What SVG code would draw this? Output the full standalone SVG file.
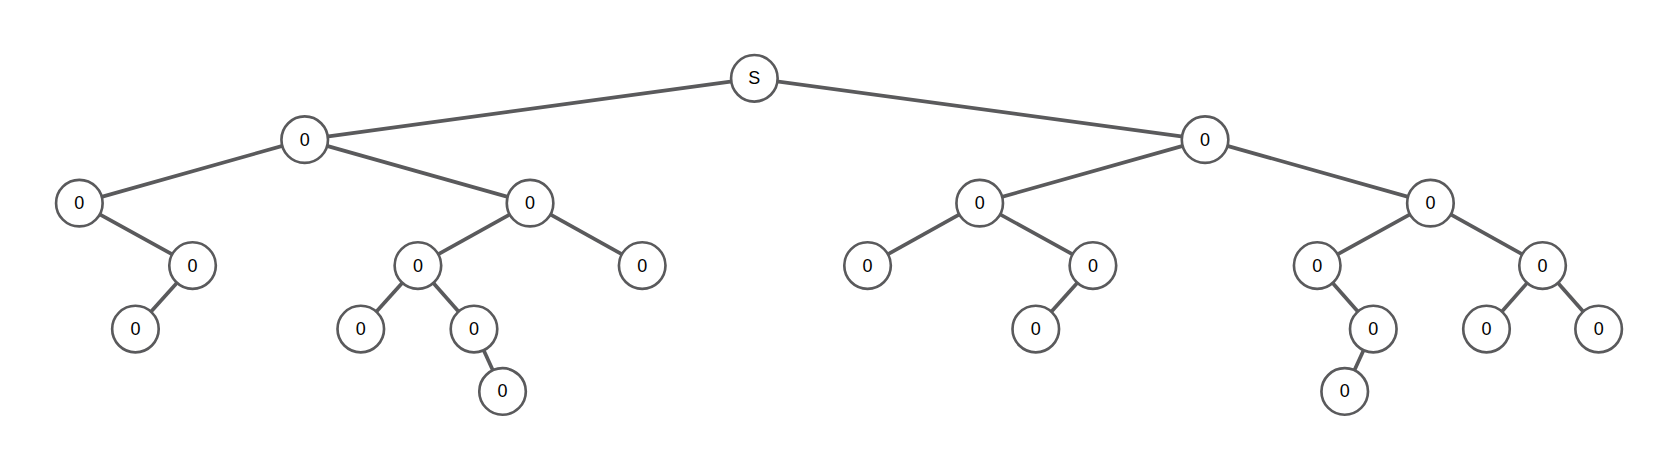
<svg xmlns="http://www.w3.org/2000/svg" width="1659" height="461" viewBox="0 0 1659 461">
<style>
.e{stroke:#5a5a5c;stroke-width:3.5;fill:none}
.n circle{fill:#fff;stroke:#5a5a5c;stroke-width:2.5}
.n text{font-family:"Liberation Sans",Arial,sans-serif;font-size:17px;fill:#000;text-anchor:middle;dominant-baseline:central}
</style>
<rect width="1659" height="461" fill="#fff"/>
<g transform="scale(1.058)">
<g id="edges">
<line class="e" x1="713" y1="74" x2="288" y2="132"/>
<line class="e" x1="713" y1="74" x2="1139" y2="132"/>
<line class="e" x1="288" y1="132" x2="75" y2="192"/>
<line class="e" x1="288" y1="132" x2="501" y2="192"/>
<line class="e" x1="75" y1="192" x2="182" y2="251"/>
<line class="e" x1="182" y1="251" x2="128" y2="311"/>
<line class="e" x1="501" y1="192" x2="395" y2="251"/>
<line class="e" x1="501" y1="192" x2="607" y2="251"/>
<line class="e" x1="395" y1="251" x2="341" y2="311"/>
<line class="e" x1="395" y1="251" x2="448" y2="311"/>
<line class="e" x1="448" y1="311" x2="475" y2="370"/>
<line class="e" x1="1139" y1="132" x2="926" y2="192"/>
<line class="e" x1="1139" y1="132" x2="1352" y2="192"/>
<line class="e" x1="926" y1="192" x2="820" y2="251"/>
<line class="e" x1="926" y1="192" x2="1033" y2="251"/>
<line class="e" x1="1033" y1="251" x2="979" y2="311"/>
<line class="e" x1="1352" y1="192" x2="1245" y2="251"/>
<line class="e" x1="1352" y1="192" x2="1458" y2="251"/>
<line class="e" x1="1245" y1="251" x2="1298" y2="311"/>
<line class="e" x1="1298" y1="311" x2="1271" y2="370"/>
<line class="e" x1="1458" y1="251" x2="1405" y2="311"/>
<line class="e" x1="1458" y1="251" x2="1511" y2="311"/>
</g>
<g id="n0" class="n"><circle cx="713" cy="74" r="22"/><text x="713" y="74">S</text></g>
<g id="n1" class="n"><circle cx="288" cy="132" r="22"/><text x="288" y="132">0</text></g>
<g id="n2" class="n"><circle cx="1139" cy="132" r="22"/><text x="1139" y="132">0</text></g>
<g id="n3" class="n"><circle cx="75" cy="192" r="22"/><text x="75" y="192">0</text></g>
<g id="n4" class="n"><circle cx="501" cy="192" r="22"/><text x="501" y="192">0</text></g>
<g id="n5" class="n"><circle cx="182" cy="251" r="22"/><text x="182" y="251">0</text></g>
<g id="n6" class="n"><circle cx="128" cy="311" r="22"/><text x="128" y="311">0</text></g>
<g id="n7" class="n"><circle cx="395" cy="251" r="22"/><text x="395" y="251">0</text></g>
<g id="n8" class="n"><circle cx="607" cy="251" r="22"/><text x="607" y="251">0</text></g>
<g id="n9" class="n"><circle cx="341" cy="311" r="22"/><text x="341" y="311">0</text></g>
<g id="n10" class="n"><circle cx="448" cy="311" r="22"/><text x="448" y="311">0</text></g>
<g id="n11" class="n"><circle cx="475" cy="370" r="22"/><text x="475" y="370">0</text></g>
<g id="n12" class="n"><circle cx="926" cy="192" r="22"/><text x="926" y="192">0</text></g>
<g id="n13" class="n"><circle cx="1352" cy="192" r="22"/><text x="1352" y="192">0</text></g>
<g id="n14" class="n"><circle cx="820" cy="251" r="22"/><text x="820" y="251">0</text></g>
<g id="n15" class="n"><circle cx="1033" cy="251" r="22"/><text x="1033" y="251">0</text></g>
<g id="n16" class="n"><circle cx="979" cy="311" r="22"/><text x="979" y="311">0</text></g>
<g id="n17" class="n"><circle cx="1245" cy="251" r="22"/><text x="1245" y="251">0</text></g>
<g id="n18" class="n"><circle cx="1458" cy="251" r="22"/><text x="1458" y="251">0</text></g>
<g id="n19" class="n"><circle cx="1298" cy="311" r="22"/><text x="1298" y="311">0</text></g>
<g id="n20" class="n"><circle cx="1271" cy="370" r="22"/><text x="1271" y="370">0</text></g>
<g id="n21" class="n"><circle cx="1405" cy="311" r="22"/><text x="1405" y="311">0</text></g>
<g id="n22" class="n"><circle cx="1511" cy="311" r="22"/><text x="1511" y="311">0</text></g>
</g>
</svg>
